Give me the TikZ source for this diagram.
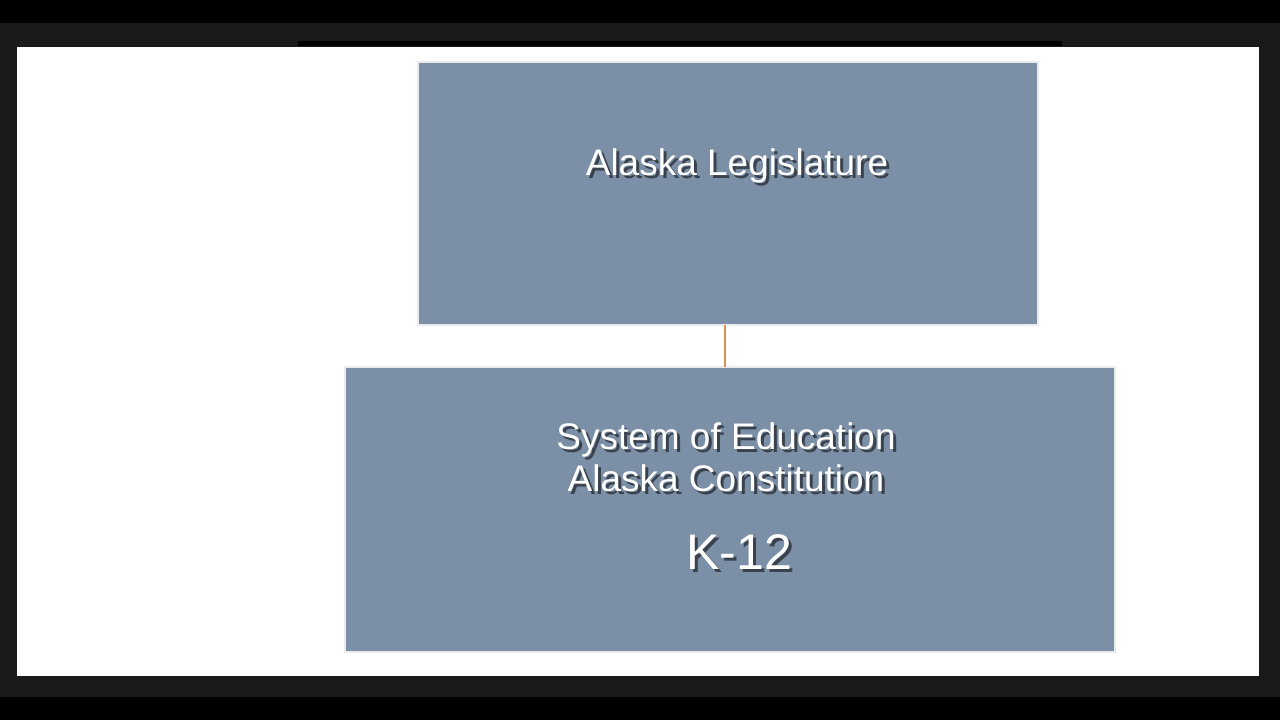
\documentclass[tikz,border=0pt]{standalone}
\usepackage{fontspec}
\setmainfont{Liberation Sans}
\usetikzlibrary{positioning}
\usetikzlibrary{calc}

\definecolor{framegray}{HTML}{1A1A1A}
\definecolor{boxblue}{HTML}{7B8FA6}
\definecolor{linkorange}{HTML}{D8904E}
\definecolor{shadegray}{HTML}{3A424E}

\newcommand{\shadetxt}[1]{\rlap{\kern3pt\raisebox{-3pt}{\textcolor{shadegray}{#1}}}#1}

\begin{document}
\begin{tikzpicture}[ x = 1pt, y = -1pt
                   , every node/.style = { inner sep = 0pt, outer sep = 0pt }
                   ]

  %%
  %% Frame
  %%
  \fill[black] (0,0) rectangle (1280,720);
  \fill[framegray] (0,23) rectangle (1280,697);
  \fill[white] (17,47) rectangle (1259,676);
  \fill[black] (298,41) rectangle (1062,46);
  \useasboundingbox (0,0) rectangle (1280,720);

  %%
  %% Nodes
  %%
  \tikzset{ orgbox/.style = { rectangle
                            , fill = boxblue
                            , draw = black!8
                            , line width = 2pt }
          , boxtext/.style = { text = white
                             , align = center
                             , font = \fontsize{37}{42}\selectfont }
          , bigtext/.style = { boxtext
                             , font = \fontsize{50}{56}\selectfont }
          }

  \node (leg) [orgbox, minimum width = 620pt, minimum height = 263pt]
        at (728,193.5) {};
  \node (edu) [orgbox, minimum width = 770pt, minimum height = 285pt]
        at (730,509.5) {};

  \node (legtext) [boxtext] at ($(leg)+(9,-26)$) {\shadetxt{Alaska Legislature}};
  \node (edutext) [boxtext] at ($(edu)+(-4,-51)$)
        {\shadetxt{System of Education}\\ \shadetxt{Alaska Constitution}};
  \node (k12) [bigtext] at ($(edu)+(9,44)$) {\shadetxt{K-12}};

  %%
  %% Connector
  %%
  \draw[linkorange, line width = 2pt] ($(leg.south)+(-3,0)$) -- ($(edu.north)+(-5,0)$);
\end{tikzpicture}
\end{document}
